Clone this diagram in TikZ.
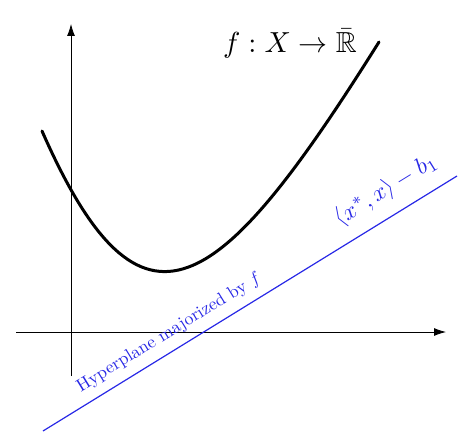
\documentclass[tikz,border=0pt]{standalone}
\usepackage{amssymb}
\usetikzlibrary{arrows.meta}
\begin{document}
\begin{tikzpicture}[x=1pt,y=-1pt,
  axis/.style={line width=0.8pt,-{Latex[length=12pt,width=8pt]}},
  graph/.style={line width=3pt,line cap=round},
  hyper/.style={line width=1.2pt,draw={rgb,255:red,40;green,40;blue,230}},
  lbl/.style={text={rgb,255:red,40;green,40;blue,230}}]
\useasboundingbox (0,0) rectangle (474,444);
\coordinate (xs) at (16,332);
\coordinate (xe) at (446,332);
\coordinate (ys) at (71,376);
\coordinate (ye) at (71,24);
\draw[axis] (xs) -- (xe);
\draw[axis] (ys) -- (ye);
\coordinate (fa) at (42,131);
\coordinate (fb) at (379,42);
\draw[graph] (fa) .. controls (142,358) and (219,297) .. (fb);
\coordinate (ha) at (43,431);
\coordinate (hb) at (457,176);
\draw[hyper] (ha) -- node[lbl,scale=1.78,sloped,above,pos=0.327,inner sep=4.8pt] (ht) {Hyperplane majorized by $f$} node[lbl,scale=2.35,sloped,above,pos=0.86,inner sep=5pt] (hl) {$\langle x^*,x\rangle - b_1$} (hb);
\node[scale=2.9,anchor=base] (fl) at (290,53) {$f:X\to\bar{\mathbb{R}}$};
\end{tikzpicture}
\end{document}
